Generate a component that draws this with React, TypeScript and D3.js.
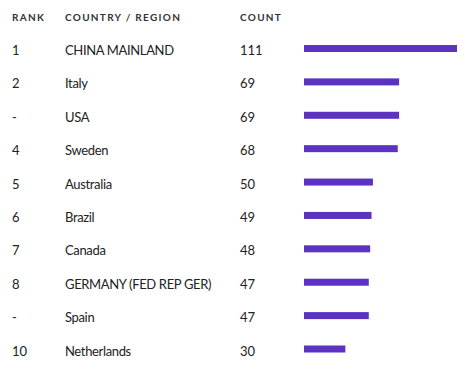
import React from "react";
import * as d3 from "d3";

const ranks = ["1", "2", "-", "4", "5", "6", "7", "8", "-", "10"];
const countries = ["CHINA MAINLAND", "Italy", "USA", "Sweden", "Australia", "Brazil", "Canada", "GERMANY (FED REP GER)", "Spain", "Netherlands"];
const counts = [111, 69, 69, 68, 50, 49, 48, 47, 47, 30];
const headers = ["RANK", "COUNTRY / REGION", "COUNT"];

export default function App() {
  const W = 474, H = 381;
  const x = d3.scaleLinear().domain([0, 111]).range([304, 457]);
  const y = d3.scaleLinear().domain([0, 9]).range([50.5, 351]);
  const font = "Lato, 'Open Sans', sans-serif";
  const colX = [12, 65, 240];
  return (
    <svg width={W} height={H} style={{ position: "absolute", left: 0, top: 0, background: "#fff" }}>
      {headers.map((h, i) => (
        <text key={h} x={colX[i]} y={17} dy="0.35em" fontFamily={font} fontSize={10} fontWeight={700} letterSpacing={1.3} fill="#333">{h}</text>
      ))}
      {countries.map((c, i) => (
        <g key={i}>
          <text x={colX[0]} y={y(i)} dy="0.35em" fontFamily={font} fontSize={13} fill="#222">{ranks[i]}</text>
          <text x={colX[1]} y={y(i)} dy="0.35em" fontFamily={font} fontSize={13} letterSpacing={-0.35} fill="#222">{c}</text>
          <text x={colX[2]} y={y(i)} dy="0.35em" fontFamily={font} fontSize={13} fill="#222">{counts[i]}</text>
          <rect x={x(0)} y={y(i) - 5.5} width={x(counts[i]) - x(0)} height={7} fill="#5b32c2" />
        </g>
      ))}
    </svg>
  );
}
